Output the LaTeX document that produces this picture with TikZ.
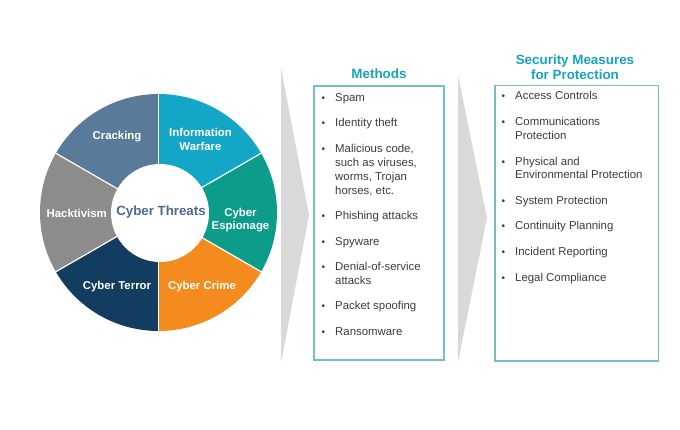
\documentclass[tikz,border=0pt]{standalone}
\usepackage{fontspec}
\setmainfont{Liberation Sans}
\usetikzlibrary{calc}
\definecolor{cCrack}{HTML}{5A7A9A}
\definecolor{cInfo}{HTML}{14A6C6}
\definecolor{cEsp}{HTML}{0E9C8A}
\definecolor{cCrime}{HTML}{F48B1F}
\definecolor{cTerror}{HTML}{133D60}
\definecolor{cHack}{HTML}{8C8C8C}
\definecolor{cCenter}{HTML}{4D6A8C}
\definecolor{cTitle}{HTML}{17A3C2}
\definecolor{cBox}{HTML}{74BEC4}
\definecolor{cText}{HTML}{3C3C3C}
\definecolor{cChev}{HTML}{D9D9D9}
\tikzset{
  seglabel/.style={text=white,font=\fontsize{11.4}{13.4}\selectfont\bfseries,align=center,inner sep=0pt},
  boxtitle/.style={text=cTitle,font=\fontsize{13.4}{15}\selectfont\bfseries,align=center,inner sep=0pt},
  listbox/.style={draw=cBox,line width=1.3pt,fill=white},
  itemtext/.style={text=cText,font=\fontsize{11.4}{13.7}\selectfont,anchor=base west,inner sep=0pt},
  bul/.style={text=cText,font=\fontsize{10}{10}\selectfont,anchor=base,inner sep=0pt},
  chev/.style={fill=cChev,draw=none}
}
\newcommand{\itm}[5]{%
  \node[bul] (#1b) at (#2-11.7,-#3) {•};
  \node[itemtext] (#1) at (#2,-#3) {\parbox[t]{#4pt}{\raggedright #5}};}
\begin{document}
\begin{tikzpicture}[x=1pt,y=1pt]
\useasboundingbox (0,0) rectangle (680,-430);
\fill[white] (0,0) rectangle (680,-430);
% donut
\def\R{118.5}
\def\r{49}
\begin{scope}[shift={(158.5,-212.5)}]
  \foreach \a/\b/\c in {30/90/cInfo,90/150/cCrack,150/210/cHack,210/270/cTerror,270/330/cCrime,-30/30/cEsp}{
    \fill[\c] (\a:\R) arc[start angle=\a,end angle=\b,radius=\R] -- (\b:\r-4) arc[start angle=\b,end angle=\a,radius=\r-4] -- cycle;
  }
  \foreach \a in {30,90,150,210,270,330}{
    \draw[white,line width=1.2pt] (\a:\r-6) -- (\a:\R+1);
  }
\end{scope}
\fill[white] (160,-213) circle[radius=\r];
\node[text=cCenter,font=\fontsize{13.3}{15}\selectfont\bfseries,inner sep=0pt] (threats) at (161,-212.5) {Cyber Threats};
\node[seglabel] (crack) at (117,-137) {Cracking};
\node[seglabel] (info) at (200.5,-139.5) {Information\\Warfare};
\node[seglabel] (esp) at (240.5,-220) {Cyber\\Espionage};
\node[seglabel] (hack) at (76.7,-213.3) {Hacktivism};
\node[seglabel] (terror) at (117,-287) {Cyber Terror};
\node[seglabel] (crime) at (202,-287) {Cyber Crime};
% chevrons
\fill[chev] (281,-68) -- (309,-215) -- (281,-363) -- cycle;
\fill[chev] (458,-75) -- (487,-218) -- (458,-362) -- cycle;
% methods
\node[boxtitle] (mtitle) at (379,-74) {Methods};
\draw[listbox] (314,-86) rectangle (444,-360);
\itm{m1}{335}{101.3}{105}{Spam}
\itm{m2}{335}{126.7}{105}{Identity theft}
\itm{m3}{335}{153}{105}{Malicious code,\\such as viruses,\\worms, Trojan\\horses, etc.}
\itm{m4}{335}{219.7}{105}{Phishing attacks}
\itm{m5}{335}{245.3}{105}{Spyware}
\itm{m6}{335}{270.7}{105}{Denial-of-service\\attacks}
\itm{m7}{335}{309.7}{105}{Packet spoofing}
\itm{m8}{335}{335}{105}{Ransomware}
% security
\node[boxtitle] (stitle) at (575,-67.5) {Security Measures\\for Protection};
\draw[listbox] (495,-85.7) rectangle (658.3,-361);
\itm{s1}{515}{100}{140}{Access Controls}
\itm{s2}{515}{125.7}{140}{Communications\\Protection}
\itm{s3}{515}{165.3}{140}{Physical and\\Environmental Protection}
\itm{s4}{515}{205}{140}{System Protection}
\itm{s5}{515}{230}{140}{Continuity Planning}
\itm{s6}{515}{255.7}{140}{Incident Reporting}
\itm{s7}{515}{281.3}{140}{Legal Compliance}
\end{tikzpicture}
\end{document}
